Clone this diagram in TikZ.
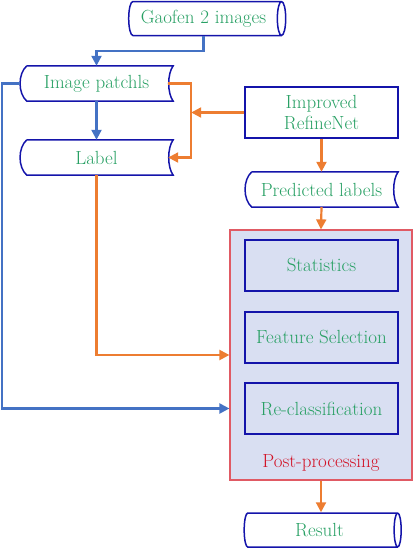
\documentclass[tikz,border=0pt]{standalone}
\usepackage{xcolor}
\usepackage{tikz}
\usetikzlibrary{positioning, arrows.meta, shapes.geometric, calc}

\definecolor{boxblue}{RGB}{20,20,170}
\definecolor{txtgreen}{RGB}{40,160,100}
\definecolor{lineblue}{RGB}{68,114,196}
\definecolor{lineorange}{RGB}{237,125,49}
\definecolor{postred}{RGB}{224,90,100}
\definecolor{postfill}{RGB}{217,223,242}
\definecolor{posttxt}{RGB}{210,20,40}

\begin{document}
\begin{tikzpicture}[
    x=1pt, y=1pt,
    font=\fontsize{19}{21}\selectfont,
    cyl/.style={cylinder, draw=boxblue, line width=1.5pt, text=txtgreen, minimum width=34pt, minimum height=157pt, aspect=0.35, inner xsep=0pt},
    store/.style={rectangle, text=txtgreen, minimum width=153pt, minimum height=35pt, inner sep=0pt},
    proc/.style={rectangle, draw=boxblue, line width=1.5pt, text=txtgreen, minimum width=153pt, minimum height=51pt, align=center, inner sep=0pt},
    container/.style={rectangle, draw=postred, fill=postfill, line width=1.2pt, minimum width=182pt, minimum height=250pt},
    blueflow/.style={draw=lineblue, line width=2.2pt, -{Triangle[length=10pt,width=10pt]}},
    orangeflow/.style={draw=lineorange, line width=2.2pt, -{Triangle[length=10pt,width=10pt]}}
]
    \useasboundingbox (0,0) rectangle (413,-550);

    \node[cyl] (gaofen) at (203.5,-18.5) {Gaofen 2 images};
    \node[store] (patch) at (96.5,-83.5) {Image patchls};
    \node[store] (label) at (96.5,-157.5) {Label};
    \node[proc] (refine) at (321.5,-112.5) {Improved\\RefineNet};
    \node[store] (pred) at (321.5,-189.5) {Predicted labels};

    % post-processing block
    \node[container] (post) at (321,-355) {};
    \node[proc] (stat) at (321.5,-265.5) {Statistics};
    \node[proc] (feat) at (321.5,-337.5) {Feature Selection};
    \node[proc] (recl) at (321.5,-408.5) {Re-classification};
    \node[text=posttxt] (posttitle) at (321,-463) {Post-processing};

    \node[cyl] (result) at (319.5,-530) {Result};

    % stored data outlines
    \foreach \n in {patch,label,pred}
        \draw[boxblue, line width=1.5pt]
            ([xshift=7pt]\n.north west) -- (\n.north east)
            .. controls +(-6,-8) and +(-6,8) .. (\n.south east)
            -- ([xshift=7pt]\n.south west)
            .. controls +(-9,8) and +(-9,-8) .. ([xshift=7pt]\n.north west);

    \coordinate (jn) at ($(patch.east)+(18,0)$);

    \draw[blueflow] (gaofen.south) -- ++(0,-15) -| (patch.north);
    \draw[blueflow] (patch.south) -- (label.north);
    \draw[blueflow] (patch.west) -- ++(-18,0) |- (recl -| post.west);

    \draw[orangeflow] ([xshift=-5pt]patch.east) -- (jn) |- ([xshift=-5pt]label.east);
    \draw[orangeflow] (refine.west) -- (refine.west -| jn);
    \draw[orangeflow] (refine.south) -- (pred.north);
    \draw[orangeflow] (pred.south) -- (post.north);
    \draw[orangeflow] (label.south) |- (post.west);
    \draw[orangeflow] (post.south) -- (post.south |- result.north);

\end{tikzpicture}
\end{document}
